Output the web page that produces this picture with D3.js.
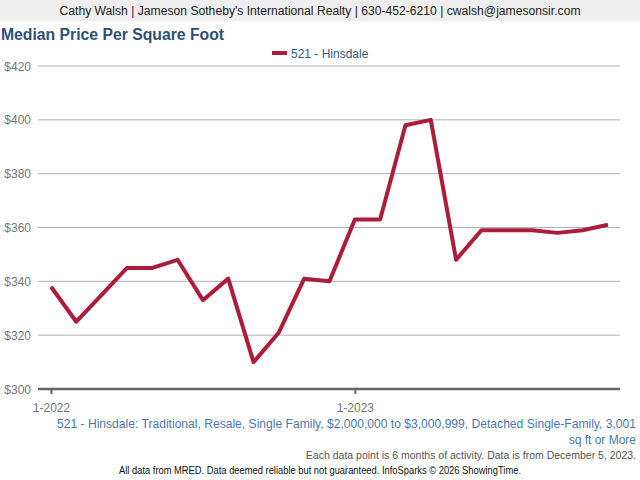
<!DOCTYPE html>
<html>
<head>
<meta charset="utf-8">
<script src="https://cdn.jsdelivr.net/npm/d3@7/dist/d3.min.js"></script>
<style>
html,body{margin:0;padding:0;background:#fff;}
svg{display:block;font-family:"Liberation Sans",Arial,sans-serif;}
</style>
</head>
<body>
<svg id="chart" width="640" height="480"></svg>
<script>
const months = ["1-2022","2-2022","3-2022","4-2022","5-2022","6-2022","7-2022","8-2022","9-2022","10-2022","11-2022","12-2022",
  "1-2023","2-2023","3-2023","4-2023","5-2023","6-2023","7-2023","8-2023","9-2023","10-2023","11-2023"];
const values = [338,325,335,345,345,348,333,341,310,321,341,340,363,363,398,400,348,359,359,359,358,359,361];
const yTicks = [300,320,340,360,380,400,420];
const xTickLabels = ["1-2022","1-2023"];
const seriesName = "521 - Hinsdale";

const svg = d3.select("#chart");
const W = 640, H = 480;
const plotLeft = 38, plotRight = 620, plotTop = 66, plotBottom = 389;

// header band
svg.append("rect").attr("x",0).attr("y",0).attr("width",W).attr("height",21).attr("fill","#eeeeee");
svg.append("text").attr("x",320).attr("y",15).attr("text-anchor","middle")
  .attr("font-size",12).attr("fill","#222")
  .attr("textLength",521).attr("lengthAdjust","spacingAndGlyphs")
  .text("Cathy Walsh | Jameson Sotheby's International Realty | 630-452-6210 | cwalsh@jamesonsir.com");

// title
svg.append("text").attr("x",1).attr("y",40).attr("font-size",16).attr("font-weight","bold")
  .attr("fill","#2d5078").attr("textLength",223).attr("lengthAdjust","spacingAndGlyphs")
  .text("Median Price Per Square Foot");

// legend
svg.append("line").attr("x1",272).attr("x2",287).attr("y1",53).attr("y2",53)
  .attr("stroke","#ad1d39").attr("stroke-width",4);
svg.append("text").attr("x",291).attr("y",57.5).attr("font-size",12).attr("fill","#36587f").text(seriesName);

const x = d3.scaleLinear().domain([0, months.length-1]).range([51, 608]);
const y = d3.scaleLinear().domain([300,420]).range([plotBottom, plotTop]);

// gridlines
svg.append("g").selectAll("line").data(yTicks.filter(d=>d>300)).join("line")
  .attr("x1",plotLeft).attr("x2",plotRight).attr("y1",d=>y(d)).attr("y2",d=>y(d))
  .attr("stroke","#b0b0b0").attr("stroke-width",1);

// y labels
svg.append("g").selectAll("text").data(yTicks).join("text")
  .attr("x",31).attr("y",d=>y(d)+4.5).attr("text-anchor","end")
  .attr("font-size",12).attr("fill","#777").text(d=>"$"+d);

// x axis
const xAxis = d3.axisBottom(x)
  .tickValues(xTickLabels.map(l=>months.indexOf(l)))
  .tickFormat(i=>months[i]).tickSize(5).tickSizeOuter(0);
const gx = svg.append("g").attr("transform",`translate(0,${plotBottom})`).call(xAxis);
gx.select(".domain").remove();
gx.selectAll(".tick line").attr("stroke","#666").attr("stroke-width",2);
gx.selectAll(".tick text").attr("font-size",12).attr("fill","#777").attr("dy","1.25em")
  .attr("font-family","'Liberation Sans',Arial,sans-serif");
svg.append("line").attr("x1",plotLeft).attr("x2",plotRight).attr("y1",plotBottom).attr("y2",plotBottom)
  .attr("stroke","#666").attr("stroke-width",2.5);

// line
const line = d3.line().x((d,i)=>x(i)).y(d=>y(d));
svg.append("path").datum(values).attr("d",line).attr("fill","none")
  .attr("stroke","#ad1d39").attr("stroke-width",4).attr("stroke-linejoin","round");

// footer
svg.append("text").attr("x",636).attr("y",428).attr("text-anchor","end").attr("font-size",12)
  .attr("fill","#4a79a8").attr("textLength",579).attr("lengthAdjust","spacingAndGlyphs")
  .text("521 - Hinsdale: Traditional, Resale, Single Family, $2,000,000 to $3,000,999, Detached Single-Family, 3,001");
svg.append("text").attr("x",636).attr("y",444).attr("text-anchor","end").attr("font-size",12)
  .attr("fill","#4a79a8").text("sq ft or More");
svg.append("text").attr("x",636).attr("y",459).attr("text-anchor","end").attr("font-size",10.5)
  .attr("fill","#555")
  .text("Each data point is 6 months of activity. Data is from December 5, 2023.");
svg.append("text").attr("x",320).attr("y",474).attr("text-anchor","middle").attr("font-size",10)
  .attr("fill","#111").attr("textLength",402).attr("lengthAdjust","spacingAndGlyphs")
  .text("All data from MRED. Data deemed reliable but not guaranteed. InfoSparks © 2026 ShowingTime.");
</script>
</body>
</html>
